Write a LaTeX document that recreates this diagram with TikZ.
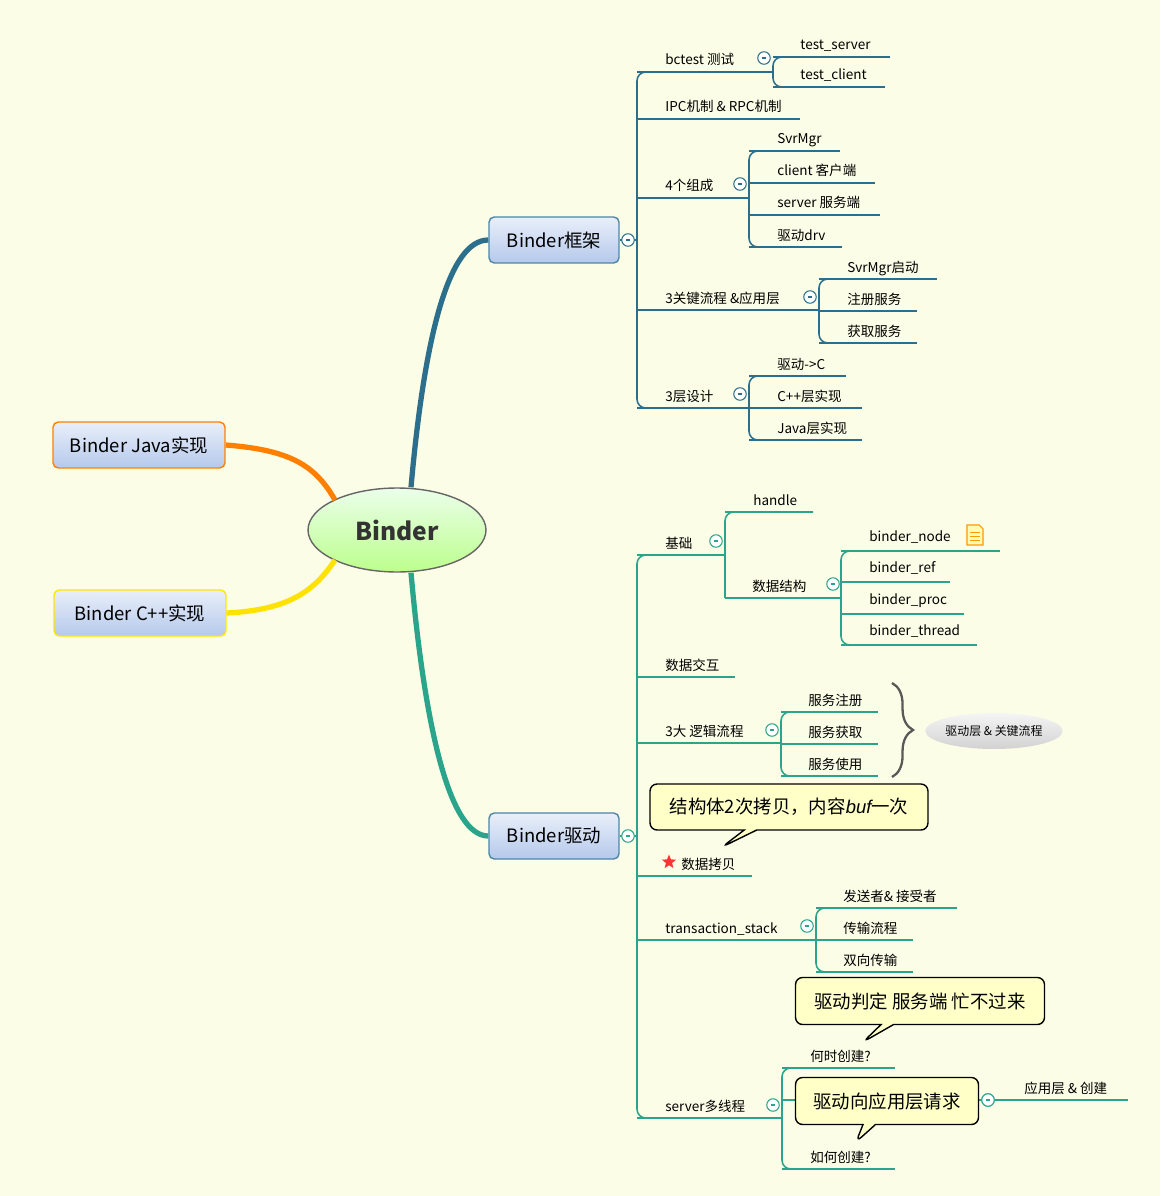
\documentclass[tikz,border=0pt]{standalone}
\usepackage{fontspec}
\setmainfont{Noto Sans CJK SC}
\newfontfamily\latinf{Liberation Sans}
\usetikzlibrary{shapes.geometric,shapes.callouts,decorations.pathreplacing,positioning}
\definecolor{bgc}{HTML}{FCFDE6}
\definecolor{topc}{HTML}{2C6F8C}
\definecolor{botc}{HTML}{2AA58B}
\definecolor{boxb}{HTML}{4C86A8}
\definecolor{boxt}{HTML}{E9EFFA}
\definecolor{boxl}{HTML}{B5C9EB}
\definecolor{notec}{HTML}{FFFFC8}
\begin{document}
\begin{tikzpicture}[x=0.02cm, y=-0.02cm,
    lbl/.style={anchor=base west, inner sep=0pt, font=\fontsize{7.7}{9}\selectfont},
    topline/.style={draw=topc, line width=0.9pt},
    botline/.style={draw=botc, line width=0.9pt},
    main/.style={rectangle, rounded corners=3pt, draw=boxb, line width=0.8pt, top color=boxt, bottom color=boxl, minimum width=2.6cm, minimum height=0.92cm, font=\fontsize{10.5}{12}\selectfont},
    side/.style={rectangle, rounded corners=3pt, line width=0.8pt, top color=boxt, bottom color=boxl, minimum width=3.44cm, minimum height=0.92cm, font=\fontsize{10.5}{12}\selectfont},
    fold/.style={circle, fill=white, line width=0.6pt, minimum size=0.25cm, inner sep=0pt, path picture={\draw[line width=0.8pt] ([xshift=-1.2pt]path picture bounding box.center) -- ([xshift=1.2pt]path picture bounding box.center);}},
    callbox/.style={rectangle callout, rounded corners=4pt, draw=black, line width=0.8pt, fill=notec, font=\fontsize{10.5}{12}\selectfont, inner sep=0pt}
]
    \fill[bgc] (0,0) rectangle (1160,1196);
    \useasboundingbox (0,0) rectangle (1160,1196);

    % Central topic and main branches
    \node[ellipse, draw=gray!80!black, line width=0.8pt, top color=green!8, bottom color=green!45!lime!45, minimum width=3.56cm, minimum height=1.68cm, font=\fontsize{14}{16}\selectfont\bfseries, text=black!80] (binder) at (397,530) {Binder};
    \node[main] (frame) at (554,240) {Binder框架};
    \node[main] (driver) at (554,836) {Binder驱动};
    \node[side, draw=orange] (java) at (139,445) {Binder Java实现};
    \node[side, draw=yellow!90!orange] (cpp) at (140,613) {Binder C++实现};

    \draw[topc, line width=3pt] (binder.north) ++(14,0) .. controls (425,330) and (450,240) .. (frame.west);
    \draw[botc, line width=3pt] (binder.south) ++(14,0) .. controls (425,730) and (450,836) .. (driver.west);
    \draw[orange, line width=3pt] (java.east) .. controls (290,450) and (315,465) .. (335,500);
    \draw[yellow!85!orange, line width=3pt] (cpp.east) .. controls (290,610) and (315,590) .. (335,560);

    % ---------- Binder框架 ----------
    \draw[topline] (frame.east) -- (637,240);
    \node[fold, draw=topc] (ff) at (628,240) {};
    \draw[topline, rounded corners=5pt] (800,119) -- (637,119);
    \draw[topline, rounded corners=5pt] (773,72) -- (637,72) -- (637,408) -- (749,408);
    \foreach \t/\y/\e in {{bctest 测试}/72/773, {IPC机制 \& RPC机制}/119/800, 4个组成/198/749, {3关键流程 \&应用层}/310/819, 3层设计/408/749}
      {\node[lbl] at (665,\y-7) {\t}; \draw[topline] (637,\y) -- (\e,\y);}
    \foreach \x/\y in {764/58, 740/184, 810/297, 740/394}
      \node[fold, draw=topc] at (\x,\y) {};

    % children
    \foreach \t/\y/\e in {test\_server/57/890, test\_client/87/885}
      {\node[lbl] at (800,\y-7) {\t}; \draw[topline] (773,\y) -- (\e,\y);}
    \draw[topline, rounded corners=5pt] (790,57) -- (773,57) -- (773,87) -- (790,87);
    \foreach \t/\y/\e in {SvrMgr/151/840, client 客户端/183/875, server 服务端/215/880, 驱动drv/247/842}
      {\node[lbl] at (777,\y-7) {\t}; \draw[topline] (749,\y) -- (\e,\y);}
    \draw[topline, rounded corners=5pt] (765,151) -- (749,151) -- (749,247) -- (765,247);
    \foreach \t/\y/\e in {SvrMgr启动/279/937, 注册服务/311/917, 获取服务/343/917}
      {\node[lbl] at (847,\y-7) {\t}; \draw[topline] (819,\y) -- (\e,\y);}
    \draw[topline, rounded corners=5pt] (835,279) -- (819,279) -- (819,343) -- (835,343);
    \foreach \t/\y/\e in {驱动->C/376/846, C++层实现/408/862, Java层实现/440/862}
      {\node[lbl] at (777,\y-7) {\t}; \draw[topline] (749,\y) -- (\e,\y);}
    \draw[topline, rounded corners=5pt] (765,376) -- (749,376) -- (749,440) -- (765,440);

    % ---------- Binder驱动 ----------
    \draw[botline] (driver.east) -- (637,836);
    \draw[botline, rounded corners=5pt] (725,555) -- (637,555) -- (637,1118) -- (782,1118);
    \foreach \t/\y/\e in {基础/555/725, 数据交互/677/735, 3大 逻辑流程/743/781, transaction\_stack/940/816, server多线程/1118/782}
      {\node[lbl] at (665,\y-7) {\t}; \draw[botline] (637,\y) -- (\e,\y);}
    \node[lbl] at (681,869) {数据拷贝};
    \draw[botline] (637,876) -- (752,876);
    \node[star, star points=5, star point ratio=2.3, fill=red!80, inner sep=0pt, minimum size=0.3cm] (star) at (669,862) {};
    \foreach \x/\y in {628/836, 716/541, 833/584, 772/730, 807/926, 773/1105, 988/1100}
      \node[fold, draw=botc] at (\x,\y) {};

    % children
    \node[lbl] at (753,505) {handle};
    \draw[botline] (725,512) -- (813,512);
    \node[lbl] at (752,591) {数据结构};
    \draw[botline] (725,598) -- (841,598);
    \draw[botline, rounded corners=5pt] (813,512) -- (725,512) -- (725,598);
    \foreach \t/\y/\e in {binder\_node/551/1000, binder\_ref/582/950, binder\_proc/614/964, binder\_thread/645/977}
      {\node[lbl] at (869,\y-10) {\t}; \draw[botline] (841,\y) -- (\e,\y);}
    \draw[botline, rounded corners=5pt] (857,551) -- (841,551) -- (841,645) -- (857,645);
    % note icon
    \draw[orange!80!yellow, fill=yellow!30, line width=0.6pt] (967,525) -- (979,525) -- (983,529) -- (983,545) -- (967,545) -- cycle;
    \foreach \y in {532,536,540} \draw[orange!80!yellow, line width=0.5pt] (970,\y) -- (980,\y);

    \foreach \t/\y in {服务注册/712, 服务获取/744, 服务使用/776}
      {\node[lbl] at (808,\y-7) {\t}; \draw[botline] (781,\y) -- (878,\y);}
    \draw[botline, rounded corners=5pt] (797,712) -- (781,712) -- (781,776) -- (797,776);
    \draw[gray!70!black, line width=1.3pt, decorate, decoration={brace, amplitude=12pt}] (892,683) -- (892,777);
    \node[ellipse, top color=gray!8, bottom color=gray!35, minimum width=2.64cm, minimum height=0.72cm, inner sep=0pt, font=\fontsize{6.8}{8}\selectfont] (flow) at (994,731) {驱动层 \& 关键流程};

    \node[callbox, minimum width=5.56cm, minimum height=0.92cm, callout absolute pointer={(722,847)}] (copynote) at (789,807) {结构体2次拷贝，内容{\latinf\itshape buf}一次};

    \foreach \t/\y/\e in {发送者\& 接受者/908/957, 传输流程/940/913, 双向传输/972/913}
      {\node[lbl] at (843,\y-7) {\t}; \draw[botline] (816,\y) -- (\e,\y);}
    \draw[botline, rounded corners=5pt] (832,908) -- (816,908) -- (816,972) -- (832,972);

    \node[callbox, minimum width=4.98cm, minimum height=0.94cm, callout absolute pointer={(863,1042)}] (busynote) at (920,1001) {驱动判定 服务端 忙不过来};
    \foreach \t/\y in {何时创建?/1068, 如何创建?/1169}
      {\node[lbl] at (810,\y-7) {\t}; \draw[botline] (782,\y) -- (895,\y);}
    \draw[botline, rounded corners=5pt] (798,1068) -- (782,1068) -- (782,1169) -- (798,1169);
    \draw[botline] (782,1100) -- (997,1100);
    \node[callbox, minimum width=3.66cm, minimum height=0.94cm, callout absolute pointer={(856,1142)}] (reqnote) at (887,1101) {驱动向应用层请求};
    \node[fold, draw=botc] at (988,1100) {};
    \node[lbl] at (1024,1093) {应用层 \& 创建};
    \draw[botline] (997,1100) -- (1128,1100);
\end{tikzpicture}
\end{document}
